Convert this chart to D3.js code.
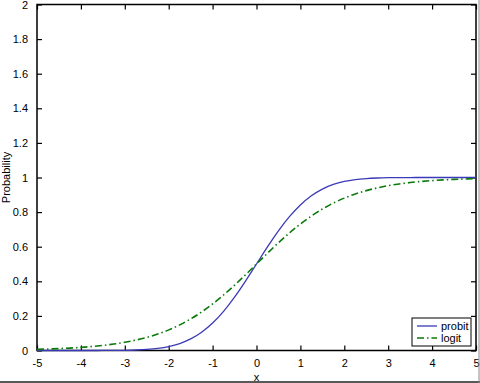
<!DOCTYPE html>
<html><head><meta charset="utf-8">
<script src="https://cdn.jsdelivr.net/npm/d3@7"></script>
<style>html,body{margin:0;padding:0;background:#fff}svg{display:block}</style>
</head><body>
<script>
const xValues = [-5,-4.75,-4.5,-4.25,-4,-3.75,-3.5,-3.25,-3,-2.75,-2.5,-2.25,-2,-1.75,-1.5,-1.25,-1,-0.75,-0.5,-0.25,0,0.25,0.5,0.75,1,1.25,1.5,1.75,2,2.25,2.5,2.75,3,3.25,3.5,3.75,4,4.25,4.5,4.75,5];
const probit = [0,0,0,0,0,0.0001,0.0002,0.0006,0.0013,0.0030,0.0062,0.0122,0.0228,0.0401,0.0668,0.1056,0.1587,0.2266,0.3085,0.4013,0.5,0.5987,0.6915,0.7734,0.8413,0.8944,0.9332,0.9599,0.9772,0.9878,0.9938,0.9970,0.9987,0.9994,0.9998,0.9999,1,1,1,1,1];
const logit = [0.0067,0.0086,0.0110,0.0140,0.0180,0.0230,0.0293,0.0373,0.0474,0.0601,0.0759,0.0953,0.1192,0.1480,0.1824,0.2227,0.2689,0.3208,0.3775,0.4378,0.5,0.5622,0.6225,0.6792,0.7311,0.7773,0.8176,0.8520,0.8808,0.9047,0.9241,0.9399,0.9526,0.9627,0.9707,0.9770,0.9820,0.9860,0.9890,0.9914,0.9933];
const xTicks = [-5,-4,-3,-2,-1,0,1,2,3,4,5];
const yTicks = [0,0.2,0.4,0.6,0.8,1,1.2,1.4,1.6,1.8,2];
const seriesNames = ["probit","logit"];

const W = 480, H = 383;
const L = 37, R = 476, T = 4.5, B = 350.5;
const svg = d3.select("body").append("svg").attr("width", W).attr("height", H);
const font = "Liberation Sans, Arial, Helvetica, sans-serif";

const x = d3.scaleLinear().domain([-5,5]).range([L,R]);
const y = d3.scaleLinear().domain([0,2]).range([B,T]);

// frame
svg.append("rect").attr("x",L).attr("y",T).attr("width",R-L).attr("height",B-T)
  .attr("fill","none").attr("stroke","#000").attr("stroke-width",1.5);

// axes with inner ticks
const fmt = d => String(Math.round(d*10)/10);
const ax = [
  {g: d3.axisBottom(x).tickValues(xTicks).tickSize(-5).tickPadding(9).tickFormat(fmt), t:`translate(0,${B})`, lab:true},
  {g: d3.axisTop(x).tickValues(xTicks).tickSize(-5).tickFormat(""), t:`translate(0,${T})`},
  {g: d3.axisLeft(y).tickValues(yTicks).tickSize(-5).tickPadding(9).tickFormat(fmt), t:`translate(${L},0)`, lab:true},
  {g: d3.axisRight(y).tickValues(yTicks).tickSize(-5).tickFormat(""), t:`translate(${R},0)`}
];
ax.forEach(a => {
  const g = svg.append("g").attr("transform", a.t).call(a.g);
  g.select(".domain").remove();
  g.selectAll("line").attr("stroke","#000").attr("stroke-width",1.2);
  g.selectAll("text").attr("font-family",font).attr("font-size",11).attr("fill","#000");
});

const pts = (vals) => xValues.map((xv,i)=>[xv, vals[i]]);
const line = d3.line().x(d=>x(d[0])).y(d=>y(d[1])).curve(d3.curveMonotoneX);

svg.append("path").attr("d", line(pts(probit))).attr("fill","none")
  .attr("stroke","#3a3ab8").attr("stroke-width",1.3);
svg.append("path").attr("d", line(pts(logit))).attr("fill","none")
  .attr("stroke","#0a7a0a").attr("stroke-width",1.6).attr("stroke-dasharray","7,3,1.5,3");

// labels
svg.append("text").attr("x", x(0)).attr("y", 381).attr("text-anchor","middle")
  .attr("font-family",font).attr("font-size",11).text("x");
svg.append("text").attr("transform",`translate(10,${(T+B)/2}) rotate(-90)`).attr("text-anchor","middle")
  .attr("font-family",font).attr("font-size",11).text("Probability");

// legend
const lg = svg.append("g");
lg.append("rect").attr("x",412).attr("y",318).attr("width",59).attr("height",28)
  .attr("fill","#fff").attr("stroke","#000").attr("stroke-width",1);
const styles = [{c:"#3a3ab8",d:null,w:1.3},{c:"#0a7a0a",d:"7,3,1.5,3",w:1.6}];
seriesNames.forEach((n,i)=>{
  const yy = 326 + i*12;
  lg.append("line").attr("x1",417).attr("x2",437).attr("y1",yy).attr("y2",yy)
    .attr("stroke",styles[i].c).attr("stroke-width",styles[i].w).attr("stroke-dasharray",styles[i].d);
  lg.append("text").attr("x",441).attr("y",yy+4).attr("font-family",font).attr("font-size",11).text(n);
});

// image border lines
svg.append("line").attr("x1",0).attr("x2",W).attr("y1",382).attr("y2",382).attr("stroke","#222").attr("stroke-width",1.5);
svg.append("line").attr("x1",479).attr("x2",479).attr("y1",0).attr("y2",H).attr("stroke","#888").attr("stroke-width",1);
</script>
</body></html>
